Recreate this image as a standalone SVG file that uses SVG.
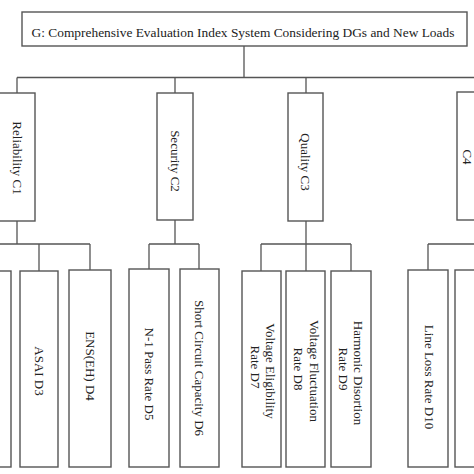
<svg xmlns="http://www.w3.org/2000/svg" width="474" height="474" viewBox="0 0 474 474">
<style>
.box{fill:#fff;stroke:#555;stroke-width:1.4}
.ln{fill:none;stroke:#555;stroke-width:1.3}
.t{font-family:"Liberation Serif","Times New Roman",serif;font-size:13px;fill:#222;text-anchor:middle}
.top{font-size:13.4px}
</style>
<rect width="474" height="474" fill="#fff"/>
<g id="connectors" class="ln">
<path d="M244,46V77.5M17,77.5H476M17,77.5V93M175,77.5V93M306,77.5V93"/>
<path d="M17,221V244M-2,244H90M39,244V271M90,244V270"/>
<path d="M175,220V244M149,244H199M149,244V269M199,244V269"/>
<path d="M306,221V244M261,244H351M261,244V271M306,244V271M351,244V271"/>
<path d="M428,244H476M428,244V270"/>
</g>
<g id="G"><rect class="box" x="22" y="12" width="445" height="34"/><text class="t top" x="243" y="37">G: Comprehensive Evaluation Index System Considering DGs and New Loads</text></g>
<g id="C1"><rect class="box" x="-1" y="93" width="36" height="128"/><text class="t" transform="translate(17.5,158) rotate(90)" y="4.5">Reliability C1</text></g>
<g id="C2"><rect class="box" x="157" y="93" width="36" height="127"/><text class="t" transform="translate(175,161) rotate(90)" y="4.5">Security C2</text></g>
<g id="C3"><rect class="box" x="288" y="93" width="35" height="128"/><text class="t" transform="translate(305.5,162) rotate(90)" y="4.5">Quality C3</text></g>
<g id="C4"><rect class="box" x="457" y="92" width="36" height="128"/><text class="t" transform="translate(467,157) rotate(90)" y="4.5">C4</text></g>
<g id="D2"><rect class="box" x="-30" y="271" width="41" height="196"/></g>
<g id="D3"><rect class="box" x="20" y="271" width="38" height="196"/><text class="t" transform="translate(39.5,371) rotate(90)" y="4.5">ASAI D3</text></g>
<g id="D4"><rect class="box" x="69" y="270" width="42" height="197"/><text class="t" transform="translate(90,366) rotate(90)" y="4.5">ENS(EH) D4</text></g>
<g id="D5"><rect class="box" x="129" y="269" width="40" height="198"/><text class="t" transform="translate(149,374) rotate(90)" y="4.5">N-1 Pass Rate D5</text></g>
<g id="D6"><rect class="box" x="180" y="269" width="39" height="198"/><text class="t" transform="translate(199.5,368) rotate(90)" y="4.5">Short Circuit Capacity D6</text></g>
<g id="D7"><rect class="box" x="242" y="271" width="39" height="196"/><text class="t" transform="translate(270,371) rotate(90)" y="4.5">Voltage Eligibility</text><text class="t" transform="translate(255,367) rotate(90)" y="4.5">Rate D7</text></g>
<g id="D8"><rect class="box" x="286" y="271" width="39" height="196"/><text class="t" transform="translate(314,371) rotate(90)" y="4.5">Voltage Fluctuation</text><text class="t" transform="translate(298,369) rotate(90)" y="4.5">Rate D8</text></g>
<g id="D9"><rect class="box" x="331" y="271" width="40" height="196"/><text class="t" transform="translate(358,373) rotate(90)" y="4.5">Harmonic Disortion</text><text class="t" transform="translate(343,369) rotate(90)" y="4.5">Rate D9</text></g>
<g id="D10"><rect class="box" x="408" y="270" width="40" height="197"/><text class="t" transform="translate(429,377) rotate(90)" y="4.5">Line Loss Rate D10</text></g>
<g id="D11"><rect class="box" x="455" y="270" width="40" height="197"/></g>
</svg>
